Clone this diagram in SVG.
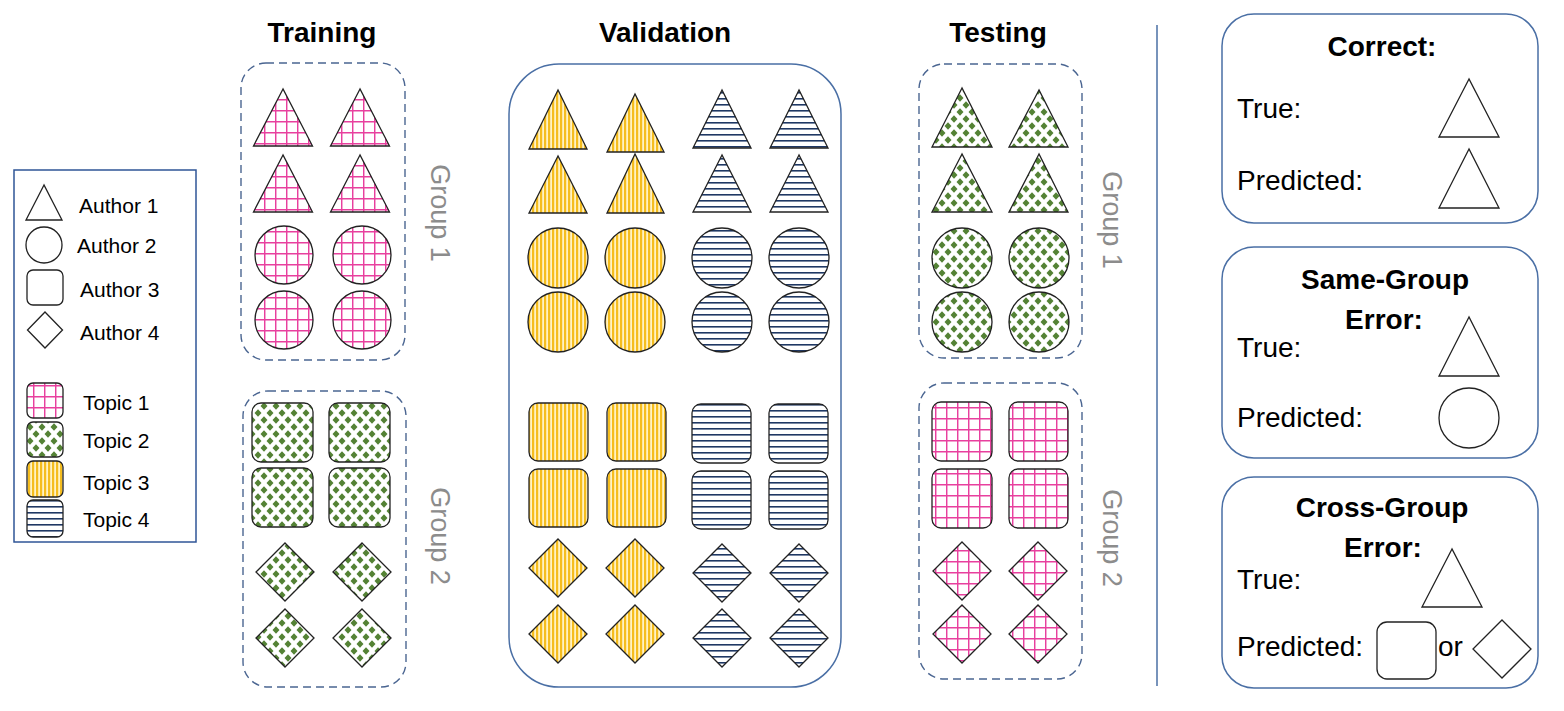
<svg xmlns="http://www.w3.org/2000/svg" width="1564" height="711" viewBox="0 0 1564 711">
<style>
.sh{stroke:#222;stroke-width:1.3}
.t1{fill:url(#p1)}.t2{fill:url(#p2)}.t3{fill:url(#p3)}.t4{fill:url(#p4)}
.plain{fill:#fff;stroke:#222;stroke-width:1.3}
.dash{fill:none;stroke:#4a6591;stroke-width:1.4;stroke-dasharray:8 5}
.solid{fill:none;stroke:#4a6fa5;stroke-width:1.5}
.title{font-family:"Liberation Sans",Arial,sans-serif;font-weight:bold;font-size:28px;fill:#000;text-anchor:middle}
.grp{font-family:"Liberation Sans",Arial,sans-serif;font-size:27px;fill:#8c8c8c;text-anchor:middle;dominant-baseline:central}
.leg{font-family:"Liberation Sans",Arial,sans-serif;font-size:21px;fill:#000}
.lab{font-family:"Liberation Sans",Arial,sans-serif;font-size:28px;fill:#000}
</style>
<defs>
<pattern id="p1" width="11" height="11" patternUnits="userSpaceOnUse">
<rect width="11" height="11" fill="#fff"/>
<path d="M0.7 0V11M0 0.7H11" stroke="#e8409e" stroke-width="1.5"/>
</pattern>
<pattern id="p2" width="12" height="14" patternUnits="userSpaceOnUse">
<rect width="12" height="14" fill="#fff"/>
<path d="M6 3.3L9.5 7L6 10.7L2.5 7Z M0 -3.7L3.5 0L0 3.7L-3.5 0Z M12 -3.7L15.5 0L12 3.7L8.5 0Z M0 10.3L3.5 14L0 17.7L-3.5 14Z M12 10.3L15.5 14L12 17.7L8.5 14Z" fill="#548235"/>
</pattern>
<pattern id="p3" width="4" height="4" patternUnits="userSpaceOnUse">
<rect width="4" height="4" fill="#fff2c4"/>
<rect x="0" width="2.2" height="4" fill="#f5bd1f"/>
</pattern>
<pattern id="p4" width="6" height="6" patternUnits="userSpaceOnUse">
<rect width="6" height="6" fill="#fff"/>
<rect y="2" width="6" height="1.6" fill="#1f3864"/>
</pattern>
</defs>
<rect width="1564" height="711" fill="#fff"/>

<g id="titles">
<text class="title" x="322" y="42">Training</text>
<text class="title" x="665" y="42">Validation</text>
<text class="title" x="998" y="42">Testing</text>
</g>

<g id="legend">
<rect x="14" y="170" width="182" height="372" fill="none" stroke="#2f5597" stroke-width="1.5"/>
<polygon class="plain" points="44,185 26,220 62,220"/>
<text class="leg" x="79" y="213">Author 1</text>
<circle class="plain" cx="44" cy="245" r="18"/>
<text class="leg" x="77" y="253">Author 2</text>
<rect class="plain" x="27" y="270" width="36" height="35" rx="6"/>
<text class="leg" x="80" y="297">Author 3</text>
<polygon class="plain" points="45,312 62.5,330 45,348 27.5,330"/>
<text class="leg" x="80" y="340">Author 4</text>
<rect class="t1 sh" x="27" y="383" width="36" height="35" rx="6"/>
<text class="leg" x="83" y="410">Topic 1</text>
<rect class="t2 sh" x="27" y="422" width="36" height="35" rx="6"/>
<text class="leg" x="83" y="448">Topic 2</text>
<rect class="t3 sh" x="27" y="461" width="36" height="36" rx="6"/>
<text class="leg" x="83" y="490">Topic 3</text>
<rect class="t4 sh" x="27" y="500" width="36" height="37" rx="6"/>
<text class="leg" x="83" y="527">Topic 4</text>
</g>

<g id="training-group1">
<rect class="dash" x="241" y="63" width="164" height="297" rx="25"/>
<polygon class="t1 sh" points="283,89 253.5,146 312.5,146"/>
<polygon class="t1 sh" points="360,89 330.5,146 389.5,146"/>
<polygon class="t1 sh" points="283,155 253.5,212 312.5,212"/>
<polygon class="t1 sh" points="360,155 330.5,212 389.5,212"/>
<circle class="t1 sh" cx="284" cy="255" r="29"/>
<circle class="t1 sh" cx="362" cy="255" r="29"/>
<circle class="t1 sh" cx="284" cy="320" r="29"/>
<circle class="t1 sh" cx="362" cy="320" r="29"/>
<text class="grp" transform="translate(440,213) rotate(90)">Group 1</text>
</g>

<g id="training-group2">
<rect class="dash" x="243" y="391" width="163" height="296" rx="25"/>
<rect class="t2 sh" x="252" y="403" width="61" height="59" rx="9"/>
<rect class="t2 sh" x="329" y="403" width="61" height="59" rx="9"/>
<rect class="t2 sh" x="252" y="468" width="61" height="59" rx="9"/>
<rect class="t2 sh" x="329" y="468" width="61" height="59" rx="9"/>
<polygon class="t2 sh" points="285,543 314,572 285,601 256,572"/>
<polygon class="t2 sh" points="362,543 391,572 362,601 333,572"/>
<polygon class="t2 sh" points="285,609 314,638 285,667 256,638"/>
<polygon class="t2 sh" points="362,609 391,638 362,667 333,638"/>
<text class="grp" transform="translate(440,536) rotate(90)">Group 2</text>
</g>

<g id="validation">
<rect class="solid" x="509" y="64" width="332" height="623" rx="50"/>
<polygon class="t3 sh" points="558,90 529,149 587,149"/>
<polygon class="t3 sh" points="635,94 607,152 664,152"/>
<polygon class="t3 sh" points="558,156 529,213 587,213"/>
<polygon class="t3 sh" points="635,154 607,213 664,213"/>
<polygon class="t4 sh" points="722,90 693,148 751,148"/>
<polygon class="t4 sh" points="799,90 770,148 828,148"/>
<polygon class="t4 sh" points="722,155 693,212 751,212"/>
<polygon class="t4 sh" points="799,155 770,212 828,212"/>
<circle class="t3 sh" cx="558" cy="258" r="30"/>
<circle class="t3 sh" cx="635" cy="258" r="30"/>
<circle class="t3 sh" cx="558" cy="322" r="30"/>
<circle class="t3 sh" cx="635" cy="322" r="30"/>
<circle class="t4 sh" cx="722" cy="258" r="30"/>
<circle class="t4 sh" cx="799" cy="258" r="30"/>
<circle class="t4 sh" cx="722" cy="322" r="30"/>
<circle class="t4 sh" cx="799" cy="322" r="30"/>
<rect class="t3 sh" x="529" y="403" width="59" height="58" rx="9"/>
<rect class="t3 sh" x="607" y="403" width="59" height="58" rx="9"/>
<rect class="t3 sh" x="529" y="469" width="59" height="58" rx="9"/>
<rect class="t3 sh" x="607" y="469" width="59" height="58" rx="9"/>
<rect class="t4 sh" x="692" y="404" width="59" height="59" rx="9"/>
<rect class="t4 sh" x="769" y="404" width="59" height="59" rx="9"/>
<rect class="t4 sh" x="692" y="471" width="59" height="58" rx="9"/>
<rect class="t4 sh" x="769" y="471" width="59" height="58" rx="9"/>
<polygon class="t3 sh" points="558,539 587,568 558,597 529,568"/>
<polygon class="t3 sh" points="635,539 664,568 635,597 606,568"/>
<polygon class="t3 sh" points="558,605 587,634 558,663 529,634"/>
<polygon class="t3 sh" points="635,605 664,634 635,663 606,634"/>
<polygon class="t4 sh" points="722,544 751,573 722,602 693,573"/>
<polygon class="t4 sh" points="799,544 828,573 799,602 770,573"/>
<polygon class="t4 sh" points="722,609 751,638 722,667 693,638"/>
<polygon class="t4 sh" points="799,609 828,638 799,667 770,638"/>
</g>

<g id="testing-group1">
<rect class="dash" x="919" y="64" width="163" height="294" rx="25"/>
<polygon class="t2 sh" points="962,88 932,147 992,147"/>
<polygon class="t2 sh" points="1039,90 1009,147 1068,147"/>
<polygon class="t2 sh" points="962,154 932,212 992,212"/>
<polygon class="t2 sh" points="1039,154 1009,212 1068,212"/>
<circle class="t2 sh" cx="962" cy="258" r="30"/>
<circle class="t2 sh" cx="1039" cy="258" r="30"/>
<circle class="t2 sh" cx="962" cy="322" r="30"/>
<circle class="t2 sh" cx="1039" cy="322" r="30"/>
<text class="grp" transform="translate(1112,220) rotate(90)">Group 1</text>
</g>

<g id="testing-group2">
<rect class="dash" x="919" y="383" width="163" height="296" rx="25"/>
<rect class="t1 sh" x="932" y="402" width="60" height="59" rx="9"/>
<rect class="t1 sh" x="1009" y="402" width="59" height="59" rx="9"/>
<rect class="t1 sh" x="932" y="469" width="60" height="59" rx="9"/>
<rect class="t1 sh" x="1009" y="469" width="59" height="59" rx="9"/>
<polygon class="t1 sh" points="962,542 991,571 962,600 933,571"/>
<polygon class="t1 sh" points="1038,542 1067,571 1038,600 1009,571"/>
<polygon class="t1 sh" points="962,605 991,634 962,663 933,634"/>
<polygon class="t1 sh" points="1038,605 1067,634 1038,663 1009,634"/>
<text class="grp" transform="translate(1112,538) rotate(90)">Group 2</text>
</g>

<g id="connectors">
<line x1="1157" y1="25" x2="1157" y2="686" stroke="#4a6fa5" stroke-width="1.5"/>
</g>

<g id="panel-correct">
<rect class="solid" x="1222" y="14" width="316" height="209" rx="32"/>
<text class="title" x="1382" y="56">Correct:</text>
<text class="lab" x="1237" y="118">True:</text>
<polygon class="plain" points="1469,79 1439,137 1499,137"/>
<text class="lab" x="1237" y="190">Predicted:</text>
<polygon class="plain" points="1469,149 1439,208 1499,208"/>
</g>

<g id="panel-same">
<rect class="solid" x="1222" y="247" width="316" height="211" rx="32"/>
<text class="title" x="1385" y="289">Same-Group</text>
<text class="title" x="1384" y="329">Error:</text>
<text class="lab" x="1237" y="357">True:</text>
<polygon class="plain" points="1469,317 1439,376 1499,376"/>
<text class="lab" x="1237" y="427">Predicted:</text>
<circle class="plain" cx="1469" cy="418" r="30"/>
</g>

<g id="panel-cross">
<rect class="solid" x="1222" y="477" width="316" height="211" rx="32"/>
<text class="title" x="1382" y="517">Cross-Group</text>
<text class="title" x="1383" y="557">Error:</text>
<text class="lab" x="1237" y="589">True:</text>
<polygon class="plain" points="1452,549 1422,607 1482,607"/>
<text class="lab" x="1237" y="656">Predicted:</text>
<rect class="plain" x="1377" y="622" width="59" height="57" rx="10"/>
<text class="lab" x="1438" y="656">or</text>
<polygon class="plain" points="1502,620 1531,649 1502,678 1473,649"/>
</g>
</svg>
